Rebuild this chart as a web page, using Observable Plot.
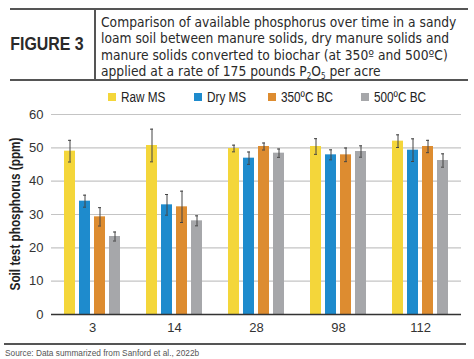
<!DOCTYPE html>
<html>
<head>
<meta charset="utf-8">
<script src="https://cdn.jsdelivr.net/npm/d3@7"></script>
<script src="https://cdn.jsdelivr.net/npm/@observablehq/plot@0.6"></script>
<style>
  html, body { margin: 0; padding: 0; background: #fff; }
  body { width: 474px; height: 359px; position: relative; overflow: hidden; font-family: "Liberation Sans", sans-serif; color: #222; }
  .rule { position: absolute; background: #555; }
  #fig { position: absolute; left: 47px; top: 33px; transform: translateX(-50%) scaleX(0.86); white-space: nowrap; font-family: "Liberation Sans", sans-serif; font-weight: bold; font-size: 18.5px; color: #2a2a2a; }
  #title { position: absolute; left: 101px; top: 14px; width: 370px; font-family: "DejaVu Sans Condensed", "DejaVu Sans", sans-serif; font-size: 13.7px; line-height: 16.4px; color: #2a2a2a; white-space: nowrap; }
  #title sub { font-size: 8px; vertical-align: -3px; line-height: 0; }
  #legend { position: absolute; top: 89px; left: 0; width: 474px; height: 16px; font-size: 14px; color: #222; }
  .li { position: absolute; top: 0; display: flex; align-items: center; height: 16px; white-space: nowrap; }
  .sw { width: 8px; height: 8px; margin-right: 5px; }
  .lt { display: inline-block; transform: scaleX(0.84); transform-origin: left center; }
  #ylab { position: absolute; left: 15px; top: 214px; transform: translate(-50%, -50%) rotate(-90deg) scaleX(0.84); white-space: nowrap; font-weight: bold; font-size: 14px; color: #222; }
  #chart { position: absolute; left: 0; top: 104px; }
  #source { position: absolute; left: 5px; top: 348px; font-size: 8.3px; color: #555; white-space: nowrap; }
</style>
</head>
<body>
<div class="rule" style="left:10px; top:8px; width:458px; height:2px;"></div>
<div class="rule" style="left:10px; top:79px; width:458px; height:2px;"></div>
<div class="rule" style="left:94px; top:10px; width:2px; height:69px;"></div>
<div id="fig">FIGURE 3</div>
<div id="title">Comparison of available phosphorus over time in a sandy<br>loam soil between manure solids, dry manure solids and<br>manure solids converted to biochar (at 350º and 500ºC)<br>applied at a rate of 175 pounds P<sub>2</sub>O<sub>5</sub> per acre</div>
<div id="legend"></div>
<div id="ylab">Soil test phosphorus (ppm)</div>
<div id="chart"></div>
<div class="rule" style="left:4px; top:343px; width:462px; height:2px;"></div>
<div id="source">Source: Data summarized from Sanford et al., 2022b</div>
<script>
const days = ["3", "14", "28", "98", "112"];
const seriesNames = ["Raw MS", "Dry MS", "350ºC BC", "500ºC BC"];
const seriesColors = ["#F4D63A", "#1E8BCD", "#DD8C30", "#A6A7AA"];
const rawMS = [49.0, 50.7, 49.8, 50.4, 52.0];
const rawMSErr = [3.25, 4.9, 1.0, 2.35, 1.9];
const dryMS = [34.0, 32.9, 46.9, 47.9, 49.3];
const dryMSErr = [1.8, 3.1, 1.85, 1.5, 3.4];
const bc350 = [29.3, 32.3, 50.4, 47.9, 50.4];
const bc350Err = [2.75, 4.7, 1.05, 2.05, 1.85];
const bc500 = [23.4, 28.1, 48.4, 48.9, 46.2];
const bc500Err = [1.35, 1.5, 1.25, 1.7, 2.0];
const yTicks = [0, 10, 20, 30, 40, 50, 60];

const values = [rawMS, dryMS, bc350, bc500];
const errs = [rawMSErr, dryMSErr, bc350Err, bc500Err];
const data = [];
days.forEach((d, i) => {
  seriesNames.forEach((s, j) => {
    data.push({day: d, series: s, value: values[j][i], lo: values[j][i] - errs[j][i], hi: values[j][i] + errs[j][i]});
  });
});

// legend
const legendX = [108, 194, 268, 361];
const legend = document.getElementById("legend");
seriesNames.forEach((s, j) => {
  const el = document.createElement("div");
  el.className = "li";
  el.style.left = legendX[j] + "px";
  el.innerHTML = `<div class="sw" style="background:${seriesColors[j]}"></div><span class="lt">${s}</span>`;
  legend.appendChild(el);
});

const chart = Plot.plot({
  width: 474,
  height: 234,
  marginLeft: 49,
  marginRight: 12,
  marginTop: 10,
  marginBottom: 24,
  style: {fontFamily: "'Liberation Sans', sans-serif", fontSize: "13px", color: "#333", background: "transparent"},
  fx: {domain: days, padding: 0, label: null, tickSize: 0, tickPadding: 8},
  x: {domain: seriesNames, paddingInner: 0.25, paddingOuter: 0.7, axis: null},
  y: {domain: [0, 60], ticks: yTicks, label: null, tickSize: 0, tickPadding: 8, grid: false},
  color: {domain: seriesNames, range: seriesColors},
  marks: [
    Plot.ruleY(yTicks.filter(t => t > 0), {stroke: "#c4c4c4", strokeWidth: 1.2}),
    Plot.barY(data, {fx: "day", x: "series", y: "value", fill: "series"}),
    Plot.ruleX(data, {fx: "day", x: "series", y1: "lo", y2: "hi", stroke: "#444", strokeWidth: 1}),
    Plot.tickY(data, {fx: "day", x: "series", y: "lo", stroke: "#444", strokeWidth: 1, insetLeft: 4, insetRight: 4}),
    Plot.tickY(data, {fx: "day", x: "series", y: "hi", stroke: "#444", strokeWidth: 1, insetLeft: 4, insetRight: 4}),
    Plot.ruleY([0], {stroke: "#333", strokeWidth: 1.6})
  ]
});
document.getElementById("chart").appendChild(chart);
</script>
</body>
</html>
